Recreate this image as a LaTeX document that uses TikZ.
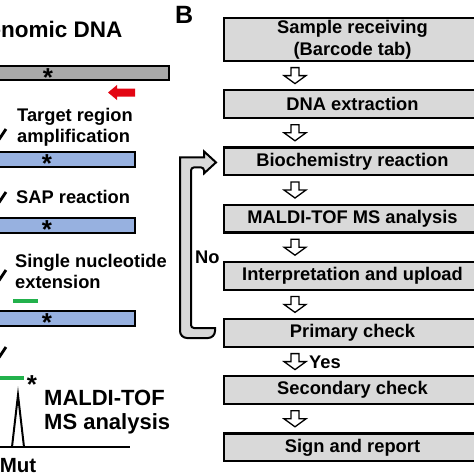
\documentclass[tikz,border=0pt]{standalone}
\usepackage{fontspec}
\setmainfont{Liberation Sans}
\usetikzlibrary{positioning,calc}
\definecolor{boxgray}{HTML}{D9D9D9}
\definecolor{graybar}{HTML}{A9A9A9}
\definecolor{bluebar}{HTML}{97B1E0}
\definecolor{primergreen}{HTML}{22B14C}
\definecolor{primerred}{HTML}{E30613}
\begin{document}
\begin{tikzpicture}[x=1pt,y=-1pt,
  txt/.style={font=\bfseries\fontsize{18.3}{21}\selectfont, inner sep=0, align=left},
  bigtxt/.style={font=\bfseries\fontsize{22}{24}\selectfont, inner sep=0, align=left},
  asterisk/.style={font=\bfseries\fontsize{26}{26}\selectfont, inner sep=0, anchor=north},
  stepbox/.style={draw, line width=2.2pt, fill=boxgray, minimum width=256.8pt,
    minimum height=27.8pt, inner sep=0, align=center,
    font=\bfseries\fontsize{18.3}{22}\selectfont},
  hollowdown/.style={draw, fill=white, line width=1.3pt, line join=miter},
  barline/.style={line width=2pt},
  checkmk/.style={line width=2.8pt},
  greenline/.style={primergreen, line width=3.5pt},
  plotline/.style={line width=2pt}]
\useasboundingbox (0,0) rectangle (474,474);
\clip (0,0) rectangle (474,474);
% panel A
\node[bigtxt, font=\bfseries\fontsize{22.5}{24}\selectfont, anchor=base west] (gdna) at (-29,37) {Genomic DNA};
\draw[barline, fill=graybar] (-5,66) rectangle (169,80);
\node[asterisk] (ast0) at (48,68) {*};
\coordinate (primer) at (108,92.5);
\fill[primerred] (primer) -- +(9,-7.5) -- +(9,-4) -- +(27,-4) -- +(27,4) -- +(9,4) -- +(9,7.5) -- cycle;
\foreach \y in {136,199,277,354}
  \draw[checkmk] (-3,\y-2) -- (0,\y+2) -- (6,\y-7);
\node[txt, anchor=base west] (step1) at (17,142) {Target region\\amplification};
\foreach \t/\i in {152/1,218/2,311/3}{
  \draw[barline, fill=bluebar] (-5,\t) rectangle (135,\t+15);
  \node[asterisk] (ast\i) at (47,\t+2) {*};
}
\node[txt, anchor=base west] (step2) at (16,203) {SAP reaction};
\node[txt, anchor=base west] (step3) at (15,288) {Single nucleotide\\extension};
\draw[greenline] (13,301) -- (38,301);
\draw[greenline] (-3,378) -- (24,378);
\node[asterisk] (ast4) at (32,375) {*};
\draw[plotline] (0,447) -- (130,447);
\draw[plotline] (12,447) -- (18,395) -- (24,447);
\node[txt, font=\bfseries\fontsize{20.5}{22}\selectfont, anchor=base] (mut) at (18,472) {Mut};
\node[bigtxt, anchor=base west] (step4) at (44,429) {MALDI-TOF\\MS analysis};
% panel B
\node[font=\bfseries\fontsize{25}{25}\selectfont, inner sep=0, anchor=base west] (lblB) at (175,23) {B};
\node[stepbox, minimum height=42.8pt] (recv) at (352.5,39.5) {Sample receiving\\(Barcode tab)};
\node[stepbox, below=27.2pt of recv] (extr) {DNA extraction};
\node[stepbox, below=27.2pt of extr] (bioc) {Biochemistry reaction};
\node[stepbox, below=27.2pt of bioc] (maldi) {MALDI-TOF MS analysis};
\node[stepbox, below=27.2pt of maldi] (interp) {Interpretation and upload};
\node[stepbox, below=27.2pt of interp] (prim) {Primary check};
\node[stepbox, below=27.2pt of prim] (second) {Secondary check};
\node[stepbox, below=27.2pt of second] (sign) {Sign and report};
\foreach \a/\b [count=\i] in {recv/extr,extr/bioc,bioc/maldi,maldi/interp,interp/prim,prim/second,second/sign}{
  \coordinate (dn\i) at ($(\a.south)!0.5!(\b.north)+(-57.5,0)$);
  \draw[hollowdown] (dn\i) +(-4,-8) -- +(4,-8) -- +(4,0) -- +(11,0) -- +(0,8)
    -- +(-11,0) -- +(-4,0) -- cycle;
}
\node[txt, anchor=west] (yes) at ($(dn6)+(14,1)$) {Yes};
% feedback loop
\draw[line width=2pt, fill=boxgray] ($(prim.west)+(-8,-5)$) [rounded corners=3pt]
  -- ($(prim.west)+(-32,-5)$) -- ($(bioc.west)+(-32,6)$) -- ($(bioc.west)+(-19,6)$)
  [sharp corners] -- ($(bioc.west)+(-19,12)$) -- ($(bioc.west)+(-7,1)$)
  -- ($(bioc.west)+(-19,-10)$) -- ($(bioc.west)+(-19,-4)$) -- ($(bioc.west)+(-43,-4)$)
  [rounded corners=7pt] -- ($(prim.west)+(-43,5)$) -- ($(prim.west)+(-8,5)$)
  [sharp corners] -- cycle;
\node[txt, anchor=base west] (no) at (195,263) {No};
\end{tikzpicture}
\end{document}
